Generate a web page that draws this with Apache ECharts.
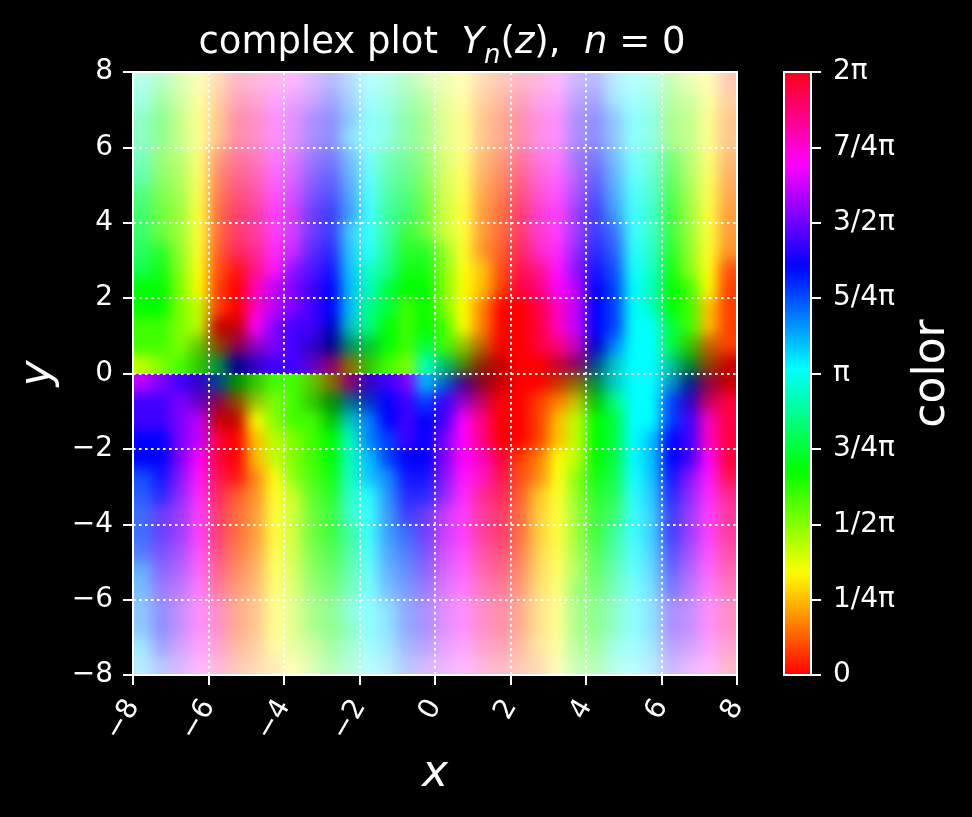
<!DOCTYPE html>
<html><head><meta charset="utf-8">
<script src="https://cdn.jsdelivr.net/npm/echarts@6/dist/echarts.min.js"></script>
<style>
html,body{margin:0;padding:0;background:#000;}
#wrap{position:relative;width:972px;height:817px;overflow:hidden;background:#000;}
#c{position:absolute;left:0;top:0;width:972px;height:817px;}
.clip{position:absolute;overflow:hidden;}
.layer{position:absolute;width:972px;height:817px;filter:blur(7px);}
</style>
</head><body><div id="wrap"><div id="c"></div></div>
<script>
// ---- data ----
// cell centres (0.5-unit cells)
const xCenters = [-7.75,-7.25,-6.75,-6.25,-5.75,-5.25,-4.75,-4.25,-3.75,-3.25,-2.75,-2.25,-1.75,-1.25,-0.75,-0.25,
                  0.25,0.75,1.25,1.75,2.25,2.75,3.25,3.75,4.25,4.75,5.25,5.75,6.25,6.75,7.25,7.75];
const yCenters = [7.75,7.25,6.75,6.25,5.75,5.25,4.75,4.25,3.75,3.25,2.75,2.25,1.75,1.25,0.75,0.25,
                  -0.25,-0.75,-1.25,-1.75,-2.25,-2.75,-3.25,-3.75,-4.25,-4.75,-5.25,-5.75,-6.25,-6.75,-7.25,-7.75];
// phase (hue) per cell, letter a..x = 0°,15°,...,345°
const hueCodes = 'abcdefghijklmnopqrstuvwx';
const hueRows = [
  'ljgecxwvusqomljg'+'fecbxwurqnmlhfeb',
  'ligecxwutsqomljh'+'fecbxvurqnmlhgec',
  'kigecxwutrqomljh'+'fecbxvurqomlhgec',
  'kigecxwutrqnmljh'+'fecbxvurqomlhgec',
  'khgebxwutrqomkjh'+'fecbxvurqomligec',
  'khgebxwutrqomkjh'+'fecbxvusqomligec',
  'jhgebxwutrqomkjh'+'fecbxvusqomligec',
  'jhgebxwutrqomkjh'+'fecbxvusqomligec',
  'jhgebxwutrqnmkih'+'fecbxvusqpmligec',
  'jigebxwutrqnmkii'+'gecbxvusqpmligec',
  'jigebawusrqnlkii'+'gedbxwusqpmligeb',
  'iigebavtsrqnljii'+'gedbxwutqpmliheb',
  'iigfbavtsrqnkjhi'+'gecaaxvtqpmlihdb',
  'hhgfaausrrqmkihi'+'hecaaxvtqpmmjhdb',
  'hhggcwtsrrqljihj'+'hfcaaxwuqommjhcb',
  'fghhkqrrrsvdhhgl'+'kgbaaaxvommmljca',
  'tsrroihhhgdvrrsn'+'osxaaabdkmmmnpwa',
  'rrsswcfghhinpqrp'+'rtwaabceikmmprwx',
  'rrstaaeghhimoqrq'+'ruwaabdfijmmprvx',
  'qqstxadfghiloprq'+'suwaabdfijmnqrvx',
  'qqsuxadfghilnpqq'+'suvxbcefijmnqrux',
  'pqsuxaceghilnoqq'+'suvxbcegijmnqsux',
  'pqsuxbcefhilmoqq'+'suwxbdegijmnqsuw',
  'prsuxbcefhilmoqr'+'tuwxbdegijmnqsuw',
  'prsuxbcefhikmopr'+'tuwxbdegikmnqsuw',
  'prsuxbcefhikmopr'+'tuwxbdegikmnqsuw',
  'orsuxbcefhikmopr'+'tuwxbdegikmnqsuw',
  'orsuxbcefhikmopr'+'tuwxbdehikmnqsuw',
  'oqsuwbcefhilmnpr'+'tuwxbdehikmnrsuw',
  'oqsuwbcefhikmnpr'+'tuwxbdehikmnrsuw',
  'nqsuwbcefgikmnpr'+'tuwxbdehilmnrsuw',
  'npsuwbcdegikmnps'+'tuwxbcehilmnrtux'
];
// magnitude shading per cell: 0..9 = paler (large |f|), p/q/r = darker (near zeros)
const lightRows = [
  '9999999999999999'+'9999999999999999',
  '8888888888888888'+'8888888888888888',
  '7777777777777777'+'7777777777777777',
  '7777777777777777'+'7777777777777777',
  '6666666666666666'+'6666666666666666',
  '5555555555555555'+'5555555555555555',
  '4444444444444444'+'4444444444444444',
  '3333333333333333'+'3333333333333333',
  '3333333333333333'+'3333333333333333',
  '2222222222222222'+'2222222222222222',
  '1111111111111111'+'1111111111111111',
  '0000000000000000'+'0000000000000000',
  '0000000000000000'+'0000000000000000',
  '0000pp0000pp0000'+'0000000000000000',
  '000pqqp00pqqp000'+'0pp0000pp0000pp0',
  '000pqqp00pqqp000'+'pqqp00pqqp00pqqp',
  '000pqqp00pqqp000'+'pqqp00pqqp00pqqp',
  '000pqqp00pqqp000'+'0pp0000pp0000pp0',
  '0000pp0000pp0000'+'0000000000000000',
  '0000000000000000'+'0000000000000000',
  '0000000000000000'+'0000000000000000',
  '1111111111111111'+'1111111111111111',
  '2222222222222222'+'2222222222222222',
  '3333333333333333'+'3333333333333333',
  '3333333333333333'+'3333333333333333',
  '4444444444444444'+'4444444444444444',
  '5555555555555555'+'5555555555555555',
  '6666666666666666'+'6666666666666666',
  '7777777777777777'+'7777777777777777',
  '7777777777777777'+'7777777777777777',
  '8888888888888888'+'8888888888888888',
  '9999999999999999'+'9999999999999999'
];
const cbTickLabels = ['0','1/4π','1/2π','3/4π','π','5/4π','3/2π','7/4π','2π'];

// ---- styling helpers ----
const FONT = 'DejaVu Sans';
const PLOT = {left:133, top:72, width:604, height:603};
function hsvRgb(h){
  h = ((h % 360) + 360) % 360;
  const k = n => { const kk = (n + h/60) % 6; return 1 - Math.max(0, Math.min(kk, 4-kk, 1)); };
  return [k(5)*255, k(3)*255, k(1)*255];
}
function shadeNum(ch){
  if (ch === 'p') return -1; if (ch === 'q') return -2; if (ch === 'r') return -3;
  return +ch;
}
function cellColor(h, s){
  let [r,g,b] = hsvRgb(h);
  if (s >= 0){ const w = s*0.08; r += (255-r)*w; g += (255-g)*w; b += (255-b)*w; }
  else { const k = 1 + s*0.22; r*=k; g*=k; b*=k; }
  return 'rgb(' + Math.round(r) + ',' + Math.round(g) + ',' + Math.round(b) + ')';
}

const cells = [];
for (let r = 0; r < yCenters.length; r++){
  for (let c = 0; c < xCenters.length; c++){
    const hi = hueCodes.indexOf(hueRows[r][c]);
    if (hi < 0) continue;
    cells.push([xCenters[c], yCenters[r], hi*15, shadeNum(lightRows[r][c])]);
  }
}

// Smooth shading layers: the cells are drawn by ECharts custom series,
// then softened by a CSS blur. The negative real axis (branch cut) stays sharp.
function addLayer(clip, data, mode){
  const wrap = document.getElementById('wrap');
  const clipDiv = document.createElement('div');
  clipDiv.className = 'clip';
  Object.assign(clipDiv.style, {left:clip.x+'px', top:clip.y+'px', width:clip.w+'px', height:clip.h+'px'});
  const inner = document.createElement('div');
  inner.className = 'layer';
  Object.assign(inner.style, {left:(-clip.x)+'px', top:(-clip.y)+'px'});
  clipDiv.appendChild(inner);
  wrap.insertBefore(clipDiv, document.getElementById('c'));
  const ch = echarts.init(inner, null, {renderer:'canvas'});
  ch.setOption({
    animation:false,
    grid:Object.assign({containLabel:false}, PLOT),
    xAxis:{type:'value', min:-8, max:8, show:false},
    yAxis:{type:'value', min:-8, max:8, show:false},
    series:[{type:'custom', clip:false, silent:true, data:data,
      renderItem:function(params, api){
        const x = api.value(0), y = api.value(1), h = api.value(2), s = api.value(3);
        let x0 = x-0.25, x1 = x+0.25, y0 = y-0.25, y1 = y+0.25;
        if (x0 <= -8) x0 = -10; if (x1 >= 8) x1 = 10;
        if (y0 <= -8) y0 = -10; if (y1 >= 8) y1 = 10;
        if (mode === 'upper' && y0 <= 0) y0 = -2;
        if (mode === 'lower' && y1 >= 0) y1 = 2;
        const p1 = api.coord([x0, y1]);
        const p2 = api.coord([x1, y0]);
        return {type:'rect',
          shape:{x:p1[0], y:p1[1], width:p2[0]-p1[0]+0.6, height:p2[1]-p1[1]+0.6},
          style:{fill:cellColor(h, s)}};
      }}]
  });
}
const upperCells = cells.filter(d => d[1] > 0);
const lowerCells = cells.filter(d => d[1] < 0);
addLayer({x:133, y:72, w:302, h:302}, upperCells, 'upper');
addLayer({x:133, y:374, w:302, h:301}, lowerCells, 'lower');
addLayer({x:435, y:72, w:302, h:603}, cells, 'all');

const cbStops = [
  [0,'rgb(255,0,0)'],[0.1587,'rgb(255,239,0)'],[0.1746,'rgb(247,255,0)'],
  [0.3333,'rgb(8,255,0)'],[0.3492,'rgb(0,255,16)'],[0.5079,'rgb(0,255,255)'],
  [0.6667,'rgb(0,16,255)'],[0.6825,'rgb(8,0,255)'],[0.8413,'rgb(247,0,255)'],
  [0.8571,'rgb(255,0,239)'],[1,'rgb(255,0,24)']
];

const white = '#ffffff';
const frameAxis = (extra) => Object.assign({
  type:'value', z:10, axisLine:{show:true, onZero:false, lineStyle:{color:white, width:2}},
  axisTick:{show:false}, axisLabel:{show:false}, splitLine:{show:false}
}, extra);
const TF = 37;
const rs = (extra) => Object.assign({color:white, fontSize:TF, fontFamily:FONT, fontWeight:'normal'}, extra);

const chart = echarts.init(document.getElementById('c'), null, {renderer:'canvas'});
chart.setOption({
  backgroundColor:'transparent',
  animation:false,
  title:{
    text:'{r|complex plot  }{i|Y}{s|n}{r|(}{i|z}{r|),  }{i|n}{r| = 0}',
    left:437, top:12, textAlign:'center',
    textStyle:{color:white, fontSize:TF, fontFamily:FONT, fontWeight:'normal',
      rich:{
        r:rs({}),
        i:rs({fontStyle:'italic'}),
        s:rs({fontSize:26, fontStyle:'italic', padding:[26,0,0,0]})
      }}
  },
  grid:[
    Object.assign({containLabel:false}, PLOT),
    {left:784, top:72, width:27, height:603, containLabel:false}
  ],
  xAxis:[
    {type:'value', gridIndex:0, min:-8, max:8, interval:2, z:10,
     axisLine:{show:true, onZero:false, lineStyle:{color:white, width:2}},
     axisTick:{show:true, length:10, lineStyle:{color:white, width:2}},
     axisLabel:{color:white, fontSize:28, fontFamily:FONT, rotate:60, margin:27,
       formatter:v => String(v).replace('-', '\u2212')},
     splitLine:{show:true, lineStyle:{color:white, width:1.8, type:[2.5,3.5]}},
     name:'x', nameLocation:'middle', nameGap:76,
     nameTextStyle:{color:white, fontSize:44, fontFamily:FONT, fontStyle:'italic'}},
    frameAxis({gridIndex:0, position:'top', min:-8, max:8}),
    frameAxis({gridIndex:1, min:0, max:1}),
    frameAxis({gridIndex:1, position:'top', min:0, max:1})
  ],
  yAxis:[
    {type:'value', gridIndex:0, min:-8, max:8, interval:2, z:10,
     axisLine:{show:true, onZero:false, lineStyle:{color:white, width:2}},
     axisTick:{show:true, length:10, lineStyle:{color:white, width:2}},
     axisLabel:{color:white, fontSize:28, fontFamily:FONT, margin:20,
       formatter:v => String(v).replace('-', '\u2212')},
     splitLine:{show:true, lineStyle:{color:white, width:1.8, type:[2.5,3.5]}},
     name:'y', nameLocation:'middle', nameGap:72, nameRotate:90,
     nameTextStyle:{color:white, fontSize:44, fontFamily:FONT, fontStyle:'italic'}},
    frameAxis({gridIndex:0, position:'right', min:-8, max:8}),
    {type:'value', gridIndex:1, position:'right', min:0, max:8, interval:1, z:10,
     axisLine:{show:true, onZero:false, lineStyle:{color:white, width:2}},
     axisTick:{show:true, length:10, lineStyle:{color:white, width:2}},
     axisLabel:{color:white, fontSize:28, fontFamily:FONT, margin:22,
       formatter:v => cbTickLabels[Math.round(v)] || ''},
     splitLine:{show:false},
     name:'color', nameLocation:'middle', nameGap:100, nameRotate:90,
     nameTextStyle:{color:white, fontSize:44, fontFamily:FONT}},
    frameAxis({gridIndex:1, position:'left', min:0, max:8})
  ],
  series:[
    {type:'custom', xAxisIndex:2, yAxisIndex:2, clip:false, silent:true,
     data:[[0,0]],
     renderItem:function(params, api){
       const p1 = api.coord([0, 8]);
       const p2 = api.coord([1, 0]);
       return {type:'rect',
         shape:{x:p1[0], y:p1[1], width:p2[0]-p1[0], height:p2[1]-p1[1]},
         style:{fill:{type:'linear', x:0, y:1, x2:0, y2:0,
           colorStops:cbStops.map(s => ({offset:s[0], color:s[1]}))}}};
     }}
  ]
});
</script></body></html>
